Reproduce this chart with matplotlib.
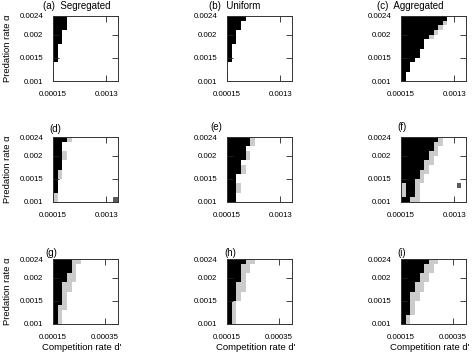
import numpy as np
import matplotlib
matplotlib.use("Agg")
import matplotlib.pyplot as plt
from matplotlib.colors import ListedColormap, BoundaryNorm

plt.rcParams['font.family'] = ['Liberation Sans', 'DejaVu Sans']

# axis ranges / ticks
alpha_range = (0.001, 0.0024)
alpha_ticks = [0.001, 0.0015, 0.002, 0.0024]
alpha_labels = ["0.001", "0.0015", "0.002", "0.0024"]
d_range_wide = (0.00015, 0.00155)
d_ticks_wide = [0.00015, 0.0013]
d_labels_wide = ["0.00015", "0.0013"]
d_range_narrow = (0.00015, 0.0004)
d_ticks_narrow = [0.00015, 0.00035]
d_labels_narrow = ["0.00015", "0.00035"]

# outcome grids, top row = alpha 0.0024, bottom row = alpha 0.001
# '#' black, '+' light grey, 'x' dark grey, '.' white
grid_a = ["###...........", "###...........", "###...........",
          "##............", "##............", "##............",
          "#.............", "#.............", "#.............", "#.............",
          "..............", "..............", "..............", ".............."]
grid_b = ["####..........", "###...........", "###...........",
          "##............", "##............", "##............",
          "#.............", "#.............", "#.............", "#.............",
          "..............", "..............", "..............", ".............."]
grid_c = ["##########....", "#########+....", "########+.....", "#######+......",
          "######+.......", "#####.........", "#####.........", "####..........",
          "####..........", "###...........", "##............", "##............",
          "#.............", "#............."]
grid_d = ["###+..........", "##............", "##............", "##+...........",
          "##+...........", "##............", "##............", "#+............",
          "#+............", "#.............", "#.............", "#.............",
          "+.............", "+............x"]
grid_e = ["#####+........", "#####+........", "####..........", "####+.........",
          "####+.........", "###...........", "###+..........", "###+..........",
          "##............", "##............", "##+...........", "##+...........",
          "##............", "##............"]
grid_f = ["########+.....", "#######++.....", "#######+......", "######++......",
          "######+.......", "#####++.......", "#####+........", "####++........",
          "####+.........", "###++.........", "+##+........x.", "+##+..........",
          "+##+..........", "##++.........."]
grid_g = ["####++........", "####+.........", "####+.........", "###++.........",
          "###++.........", "##++..........", "##++..........", "##+...........",
          "##+...........", "##+...........", "#++...........", "#+............",
          "#+............", "#+............"]
grid_h = ["####++........", "###++.........", "###++.........", "###+..........",
          "###+..........", "##++..........", "##++..........", "##+...........",
          "##+...........", "#+............", "#+............", "#+............",
          "#+............", "#+............"]
grid_i = ["######++......", "#####++.......", "#####++.......", "####++........",
          "####++........", "###++.........", "###++.........", "##++..........",
          "##++..........", "##+...........", "##+...........", "##+...........",
          "#+............", "#+............"]

panel_grids = [grid_a, grid_b, grid_c, grid_d, grid_e, grid_f, grid_g, grid_h, grid_i]
panel_letters = ["(a)", "(b)", "(c)", "(d)", "(e)", "(f)", "(g)", "(h)", "(i)"]
panel_names = ["Segregated", "Uniform", "Aggregated", "", "", "", "", "", ""]

code = {'.': 0, '+': 1, 'x': 2, '#': 3}
cmap = ListedColormap(["white", "#cbcbcb", "#5a5a5a", "black"])
norm = BoundaryNorm([-0.5, 0.5, 1.5, 2.5, 3.5], cmap.N)

W, H = 474, 357
fig = plt.figure(figsize=(W / 100, H / 100), dpi=100)

col_left = [53, 227, 401]
row_top = [16, 137, 259]
box = 65

# label positions (pixels)
letter_pos = [(43, 6), (209, 6), (377, 6),
              (55, 129), (216, 127), (402, 127),
              (51, 253), (230, 253), (402, 253)]

for k in range(9):
    r, c = divmod(k, 3)
    ax = fig.add_axes([col_left[c] / W, 1 - (row_top[r] + box) / H, box / W, box / H])
    grid = np.array([[code[ch] for ch in row] for row in panel_grids[k]])[::-1]
    xr = d_range_narrow if r == 2 else d_range_wide
    xe = np.linspace(xr[0], xr[1], grid.shape[1] + 1)
    ye = np.linspace(alpha_range[0], alpha_range[1], grid.shape[0] + 1)
    ax.pcolormesh(xe, ye, grid, cmap=cmap, norm=norm)
    ax.set_xlim(*xr)
    ax.set_ylim(*alpha_range)
    if r == 2:
        ax.set_xticks(d_ticks_narrow)
        ax.set_xticklabels(d_labels_narrow)
    else:
        ax.set_xticks(d_ticks_wide)
        ax.set_xticklabels(d_labels_wide)
    ax.set_yticks(alpha_ticks)
    ax.set_yticklabels(alpha_labels)
    ax.tick_params(direction='in', top=True, right=True, length=4, width=0.6,
                   labelsize=5.7, pad=7, color='#222222')
    for s in ax.spines.values():
        s.set_linewidth(0.7)
        s.set_color('#333333')

    lx, ly = letter_pos[k]
    if panel_names[k]:
        fig.text(lx / W, 1 - ly / H, panel_letters[k] + "  " + panel_names[k],
                 fontsize=7, ha='left', va='center')
    else:
        fig.text(lx / W, 1 - ly / H, panel_letters[k], fontsize=7,
                 ha='center', va='center')

    if c == 0:
        fig.text(8 / W, 1 - (row_top[r] + box / 2) / H, "Predation rate α",
                 rotation=90, fontsize=6.8, ha='center', va='center')
    if r == 2:
        fig.text((col_left[c] + box / 2 - 4) / W, 1 - 348 / H, "Competition rate d'",
                 fontsize=6.8, ha='center', va='center')

fig.savefig("out.png", dpi=100)
